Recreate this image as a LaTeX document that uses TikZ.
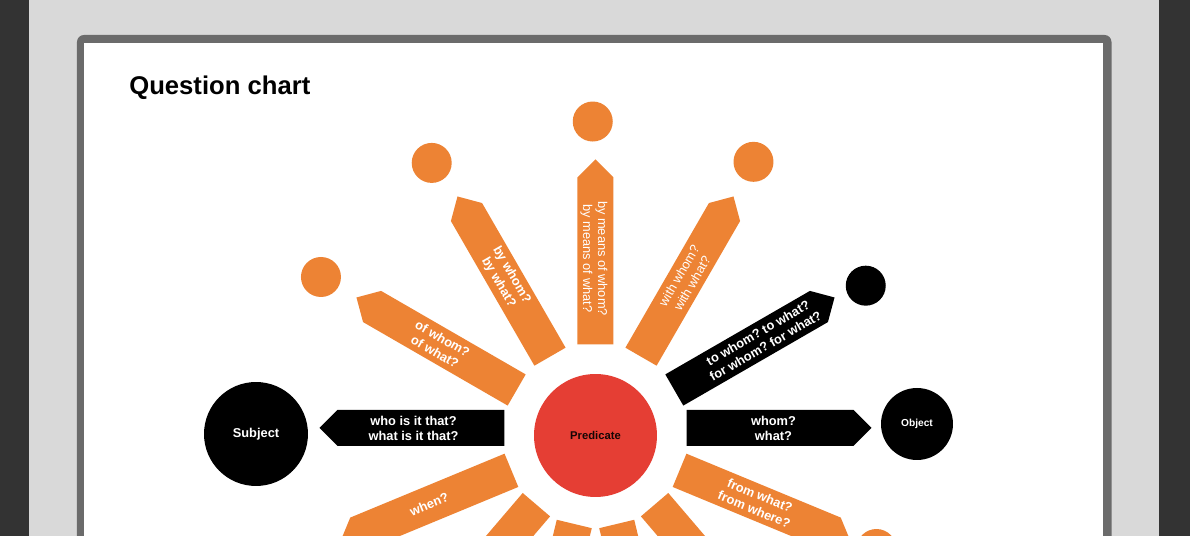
\documentclass[tikz,border=0pt]{standalone}
\usepackage{fontspec}
\setmainfont{Liberation Sans}
\usepackage{tikz}
\usetikzlibrary{positioning}
\frenchspacing
\definecolor{qorange}{RGB}{237,131,52}
\definecolor{qred}{RGB}{229,62,52}
\definecolor{qframe}{RGB}{107,107,107}
\definecolor{qpage}{RGB}{217,217,217}
\definecolor{qdark}{RGB}{51,51,51}
\tikzstyle{spokelabel} = [text=white, align=center, inner sep=0pt, font=\fontsize{7.3}{8.6}\selectfont\bfseries]
\tikzstyle{thinlabel} = [spokelabel, font=\fontsize{7.3}{8.6}\selectfont]
\tikzstyle{dot} = [circle, inner sep=0pt, minimum size=0.8cm]
\tikzstyle{bigdot} = [circle, fill=black, text=white, inner sep=0pt]

\begin{document}
\begin{tikzpicture}[x=0.02cm, y=0.02cm]
    \useasboundingbox (-595.5,-100.5) rectangle (594.5,435.5);
    \clip (-595.5,-100.5) rectangle (594.5,435.5);
    % page and frame
    \fill[qdark] (-595.5,-100.5) rectangle (594.5,435.5);
    \fill[qpage] (-566.5,-100.5) rectangle (563.5,435.5);
    \fill[qframe, rounded corners=4] (-518.5,-140) rectangle (516,400.5);
    \fill[white] (-511,-140) rectangle (507.5,392.5);
    \node[anchor=base west, inner sep=0pt, font=\fontsize{14.6}{17}\selectfont\bfseries] (title) at (-466.5,341) {Question chart};
    % spokes
    \foreach \a in {60,90,120,150,202.5,229.5,256.5,283.5,310.5,337.5}
        \fill[qorange, rotate=\a] (91,-18) -- (258,-18) -- (276,0) -- (258,18) -- (91,18) -- cycle;
    \fill[black, rotate=30] (91,-18) -- (258,-18) -- (276,0) -- (258,18) -- (91,18) -- cycle;
    \fill[black, shift={(0,7.5)}] (91,-18) -- (258,-18) -- (276,0) -- (258,18) -- (91,18) -- cycle;
    \fill[black, shift={(0,7.5)}, rotate=180] (91,-18) -- (258,-18) -- (276,0) -- (258,18) -- (91,18) -- cycle;
    % end dots
    \node[dot, fill=black] (d30) at (29:309) {};
    \node[dot, fill=qorange] (d60) at (60:316) {};
    \node[dot, fill=qorange] (d90) at (90.5:314) {};
    \node[dot, fill=qorange] (d120) at (121:318) {};
    \node[dot, fill=qorange] (d150) at (150:317) {};
    \node[dot, fill=qorange] (d202) at (202.5:316) {};
    \node[dot, fill=qorange] (d229) at (229.5:316) {};
    \node[dot, fill=qorange] (d256) at (256.5:316) {};
    \node[dot, fill=qorange] (d283) at (283.5:316) {};
    \node[dot, fill=qorange] (d310) at (310.5:316) {};
    \node[dot, fill=qorange] (d337) at (338:303) {};
    % subject, predicate, object
    \node[circle, fill=qred, minimum size=2.46cm, inner sep=0pt, text=black!90!qred,
        font=\fontsize{6.4}{8}\selectfont\bfseries] (pred) at (0,0) {Predicate};
    \node[bigdot, minimum size=2.08cm, font=\fontsize{7.3}{9}\selectfont\bfseries] (subj) at (-339.5,1.5) {Subject};
    \node[bigdot, minimum size=1.44cm, font=\fontsize{5.8}{7}\selectfont\bfseries] (obj) at (321.5,11.5) {Object};
    % questions
    \node[spokelabel] (lwho) at (-182,7) {who is it that?\\what is it that?};
    \node[spokelabel] (lwhom) at (178,7) {whom?\\what?};
    \node[spokelabel, rotate=30] (lto) at (30:192) {to whom? to what?\\for whom? for what?};
    \node[thinlabel, rotate=60] (lwith) at (60:180) {with whom?\\with what?};
    \node[thinlabel, rotate=-90] (lmeans) at (90.5:177) {by means of whom?\\by means of what?};
    \node[spokelabel, rotate=-60] (lby) at (120:181) {by whom?\\by what?};
    \node[spokelabel, rotate=-30] (lof) at (150:181) {of whom?\\of what?};
    \node[spokelabel, rotate=22.5] (lwhen) at (202.5:180) {when?};
    \node[spokelabel, rotate=-22.5] (lfrom) at (337.5:175) {from what?\\from where?};
\end{tikzpicture}
\end{document}
